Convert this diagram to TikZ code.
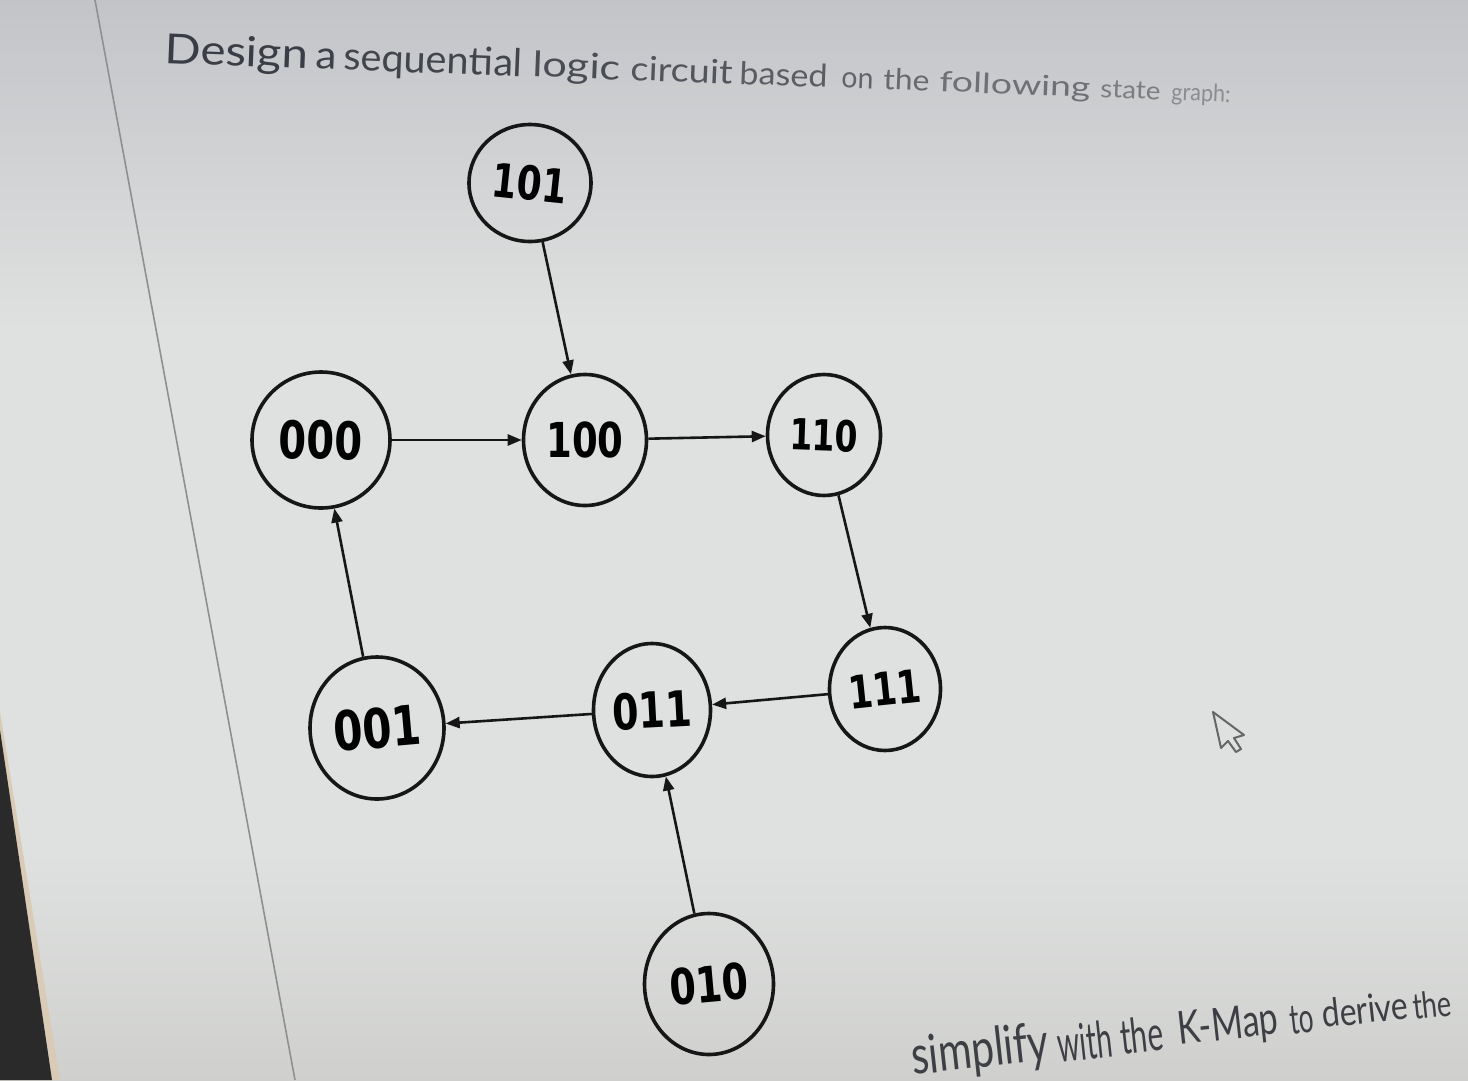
\documentclass[tikz,border=0pt]{standalone}
\usepackage{fontspec}
\usepackage{graphicx}
\setmainfont{Lato}
\newfontfamily\digitfont{DejaVu Sans}
\usetikzlibrary{shapes.geometric,arrows.meta}
\definecolor{bgtop}{HTML}{C3C4C8}
\definecolor{bgmid}{HTML}{DFE1E0}
\definecolor{bgbot}{HTML}{CFD0CE}
\definecolor{ink}{HTML}{161616}
\definecolor{edgegray}{HTML}{8E9090}
\definecolor{bezel}{HTML}{2B2A2A}
\definecolor{bezeledge}{HTML}{D9CBB6}
\definecolor{titlestart}{HTML}{3A3D45}
\definecolor{titleend}{HTML}{8C8C90}
\definecolor{bottomtext}{HTML}{3D3F44}
\newcommand{\statelabel}[3]{\rotatebox{#2}{\scalebox{1}[1.3]{\digitfont\bfseries\fontsize{#1}{#1}\selectfont #3}}}
\newcommand{\fitword}[3]{\resizebox{#1pt}{#2pt}{\fontsize{40}{40}\selectfont\vphantom{Dlfk}#3}}
\begin{document}
\begin{tikzpicture}[x=1pt,y=-1pt,
  state/.style={ellipse, draw=ink, line width=3.6pt, inner sep=0pt},
  link/.style={draw=ink, line width=2.6pt, -{Triangle[length=14pt,width=11pt]}},
  tword/.style={anchor=base west, inner sep=0pt, rotate=-2.3},
  bword/.style={anchor=base west, inner sep=0pt, rotate=6.3, text=bottomtext}]
\useasboundingbox (0,0) rectangle (1468,1080);
\clip (0,0) rectangle (1468,1080);
% background
\fill[top color=bgtop, bottom color=bgmid] (0,0) rectangle (1468,330);
\fill[bgmid] (0,329) rectangle (1468,851);
\fill[top color=bgmid, bottom color=bgbot] (0,850) rectangle (1468,1080);
% screen edge and bezel
\draw[edgegray, line width=1.6pt] (95,0) -- (295,1080);
\fill[bezeledge] (0,712) -- (60,1080) -- (0,1080) -- cycle;
\fill[bezel] (0,730) -- (52,1080) -- (0,1080) -- cycle;
% title
\node[tword, text=titlestart] (t1) at (164,63) {\fitword{144}{31}{Design}};
\node[tword, text=titlestart!95!titleend] (t2) at (315,68.5) {\fitword{21}{29}{a}};
\node[tword, text=titlestart!90!titleend] (t3) at (343,69.6) {\fitword{179}{28.8}{sequential}};
\node[tword, text=titlestart!80!titleend] (t4) at (532,76.5) {\fitword{88}{26.2}{logic}};
\node[tword, text=titlestart!70!titleend] (t5) at (630,80) {\fitword{102}{24.9}{circuit}};
\node[tword, text=titlestart!60!titleend] (t6) at (739,84) {\fitword{88}{23.5}{based}};
\node[tword, text=titlestart!50!titleend] (t7) at (841,87.8) {\fitword{32}{22.1}{on}};
\node[tword, text=titlestart!45!titleend] (t8) at (883,89.4) {\fitword{46}{21.6}{the}};
\node[tword, text=titlestart!35!titleend] (t9) at (939,91.4) {\fitword{151}{20.9}{following}};
\node[tword, text=titlestart!20!titleend] (t10) at (1100,97.4) {\fitword{60}{18.7}{state}};
\node[tword, text=titleend] (t11) at (1171,100) {\fitword{59}{17.8}{graph:}};
% bottom text
\node[bword] (b1) at (913,1075) {\fitword{138}{40}{simplify}};
\node[bword] (b2) at (1059,1063) {\fitword{55}{38}{with}};
\node[bword] (b3) at (1122,1055) {\fitword{43}{36}{the}};
\node[bword] (b4) at (1179,1045) {\fitword{101}{34}{K-Map}};
\node[bword] (b5) at (1291,1035) {\fitword{24}{31}{to}};
\node[bword] (b6) at (1323,1028) {\fitword{87}{29}{derive}};
\node[bword] (b7) at (1414,1020) {\fitword{39}{27}{the}};
% cursor
\draw[gray!80!black, line width=2pt, line join=round, fill=bgmid]
  (1213,712) -- (1221,748) -- (1228,741) -- (1236,752) -- (1241,749) -- (1234,738) -- (1244,735) -- cycle;
% states
\node[state, minimum width=122pt, minimum height=117pt] (s101) at (530,183) {\statelabel{36}{-6}{101}};
\node[state, minimum width=138pt, minimum height=136pt] (s000) at (321,440) {\statelabel{40}{-1}{000}};
\node[state, minimum width=123pt, minimum height=131pt] (s100) at (585,440) {\statelabel{37}{0}{100}};
\node[state, minimum width=113pt, minimum height=121pt] (s110) at (824,435) {\statelabel{33}{-2}{110}};
\node[state, minimum width=134pt, minimum height=142pt] (s001) at (377,728) {\statelabel{42}{5}{001}};
\node[state, minimum width=117pt, minimum height=133pt] (s011) at (652,710) {\statelabel{38}{3}{011}};
\node[state, minimum width=111pt, minimum height=123pt] (s111) at (885,689) {\statelabel{35}{6}{111}};
\node[state, minimum width=129pt, minimum height=141pt] (s010) at (709,984) {\statelabel{38}{5}{010}};
% transitions
\draw[link] (s101) -- (s100);
\draw[link] (s000) -- (s100);
\draw[link] (s100) -- (s110);
\draw[link] (s110) -- (s111);
\draw[link] (s111) -- (s011);
\draw[link] (s011) -- (s001);
\draw[link] (s001) -- (s000);
\draw[link] (s010) -- (s011);
\end{tikzpicture}
\end{document}
